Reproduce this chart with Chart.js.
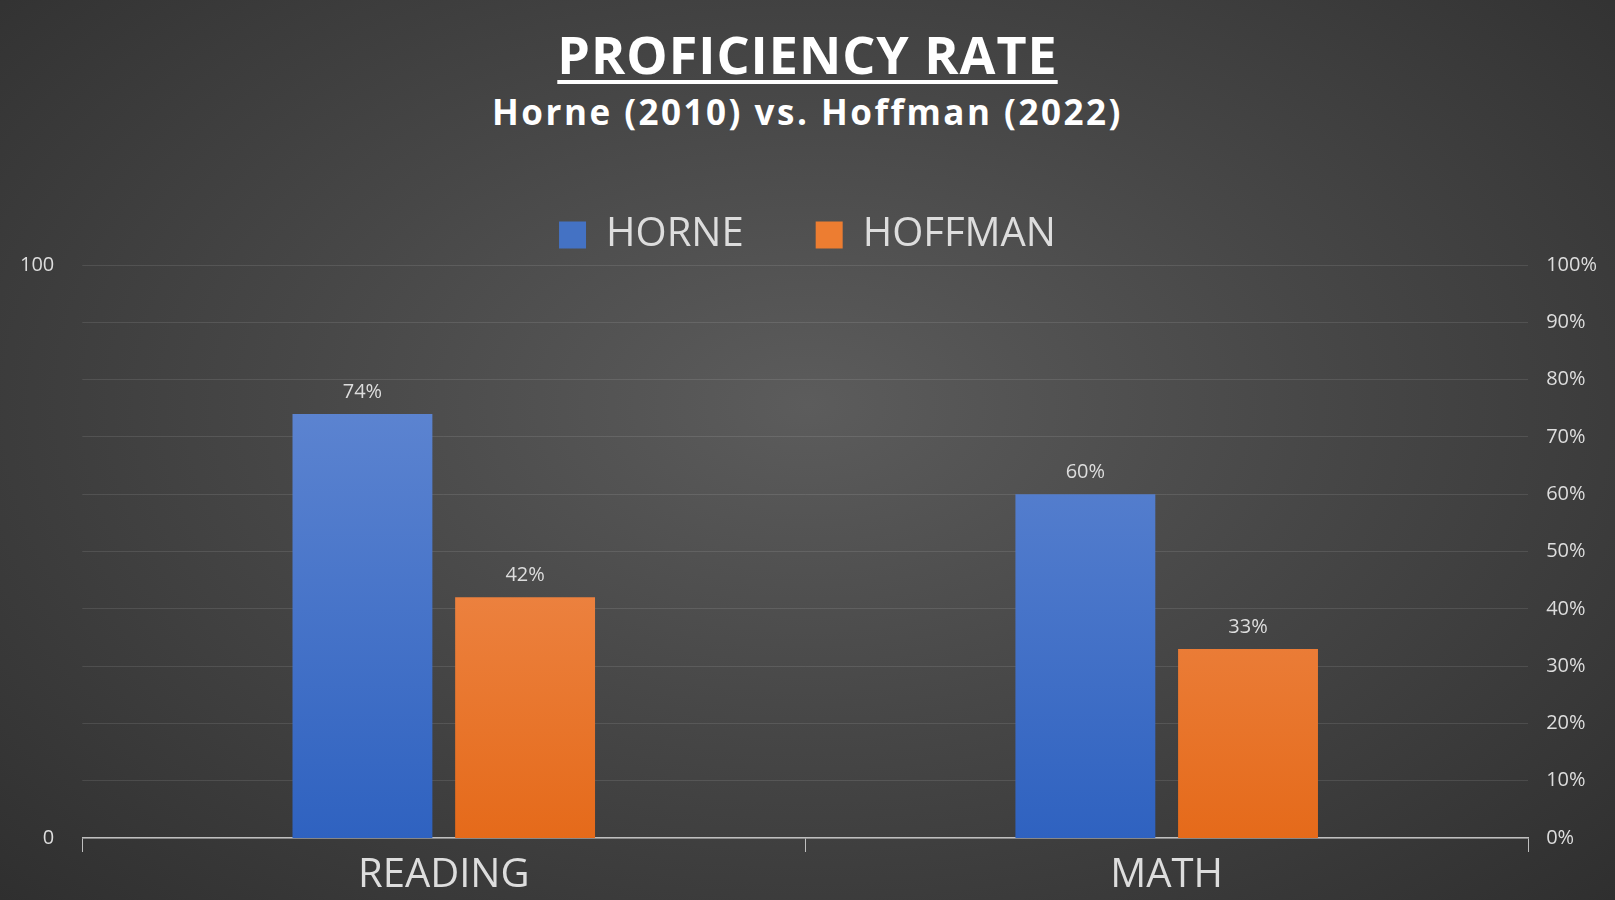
<!DOCTYPE html>
<html>
<head>
<meta charset="utf-8">
<script src="https://cdn.jsdelivr.net/npm/chart.js@4"></script>
<style>
  html, body { margin: 0; padding: 0; width: 1615px; height: 900px; overflow: hidden; }
  body { background: radial-gradient(ellipse at 50% 45%, #5c5c5c 0%, #474747 45%, #2f2f2f 100%); font-family: "Open Sans", "Noto Sans", sans-serif; position: relative; }
  #title { position: absolute; top: 18px; width: 100%; text-align: center; color: #fff; font-size: 52px; font-weight: bold; text-decoration: underline; text-underline-offset: 6px; text-decoration-thickness: 4px; letter-spacing: 1px; }
  #subtitle { position: absolute; top: 88px; width: 100%; text-align: center; color: #fff; font-size: 35px; font-weight: bold; letter-spacing: 2.5px; }
  #wrap { position: absolute; left: 0; top: 0; width: 1615px; height: 900px; }
</style>
</head>
<body>
<div id="title">PROFICIENCY RATE</div>
<div id="subtitle">Horne (2010) vs. Hoffman (2022)</div>
<div id="wrap"><canvas id="chart"></canvas></div>
<script>
const categories = ["READING", "MATH"];
const horne = [74, 60];
const hoffman = [42, 33];
const seriesNames = ["HORNE", "HOFFMAN"];

function gradient(ctx, chartArea, top, bottom) {
  if (!chartArea) return bottom;
  const g = ctx.createLinearGradient(0, chartArea.top, 0, chartArea.bottom);
  g.addColorStop(0, top);
  g.addColorStop(1, bottom);
  return g;
}

const labelPlugin = {
  id: "barLabels",
  afterDatasetsDraw(chart) {
    const ctx = chart.ctx;
    ctx.save();
    ctx.font = "20px 'Open Sans', sans-serif";
    ctx.fillStyle = "#dddddd";
    ctx.textAlign = "center";
    ctx.textBaseline = "bottom";
    chart.data.datasets.forEach((ds, i) => {
      chart.getDatasetMeta(i).data.forEach((bar, j) => {
        ctx.fillText(ds.data[j] + "%", bar.x, bar.y - 12);
      });
    });
    ctx.restore();
  }
};

new Chart(document.getElementById("chart"), {
  type: "bar",
  data: {
    labels: categories,
    datasets: [
      {
        label: seriesNames[0],
        data: horne,
        backgroundColor: c => gradient(c.chart.ctx, c.chart.chartArea, "#6b8fd6", "#2f62c0"),
        yAxisID: "y"
      },
      {
        label: seriesNames[1],
        data: hoffman,
        backgroundColor: c => gradient(c.chart.ctx, c.chart.chartArea, "#f5a070", "#e56a1a"),
        yAxisID: "y"
      }
    ]
  },
  options: {
    responsive: true,
    maintainAspectRatio: false,
    animation: false,
    categoryPercentage: 0.45,
    barPercentage: 0.86,
    layout: { padding: { top: 143, left: 0, right: 0, bottom: 0 } },
    plugins: {
      legend: {
        position: "top",
        labels: {
          color: "#dddddd",
          font: { size: 40, family: "'Open Sans', sans-serif" },
          boxWidth: 27,
          boxHeight: 27,
          padding: 72,
          generateLabels: chart => chart.data.datasets.map((ds, i) => ({
            text: ds.label,
            fillStyle: i === 0 ? "#4472c4" : "#ed7d31",
            strokeStyle: "transparent",
            lineWidth: 0,
            fontColor: "#dddddd",
            datasetIndex: i
          }))
        }
      },
      tooltip: { enabled: false }
    },
    scales: {
      x: {
        grid: { display: true, offset: true, drawOnChartArea: false, color: "#bfbfbf", tickLength: 14 },
        border: { color: "#bfbfbf", width: 1.5 },
        ticks: { color: "#dddddd", font: { size: 40, family: "'Open Sans', sans-serif" }, padding: 0 }
      },
      y: {
        position: "left",
        min: 0, max: 100,
        afterBuildTicks: axis => { axis.ticks = [{ value: 0 }, { value: 100 }]; },
        grid: { display: false },
        border: { display: false },
        ticks: { color: "#dddddd", font: { size: 20, family: "'Open Sans', sans-serif" }, padding: 20 }
      },
      y2: {
        position: "right",
        min: 0, max: 100,
        ticks: { stepSize: 10, color: "#dddddd", font: { size: 20, family: "'Open Sans', sans-serif" }, padding: 18, callback: v => v + "%" },
        grid: { color: "rgba(255,255,255,0.1)", drawTicks: false },
        border: { display: false }
      }
    }
  },
  plugins: [labelPlugin]
});
</script>
</body>
</html>
